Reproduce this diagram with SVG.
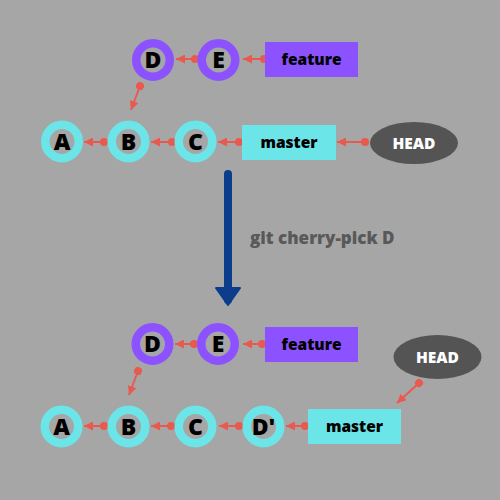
<svg xmlns="http://www.w3.org/2000/svg" width="500" height="500" viewBox="0 0 500 500">
<defs>
<marker id="tip" viewBox="0 0 10 10" refX="10" refY="5" markerWidth="9" markerHeight="9" markerUnits="userSpaceOnUse" orient="auto">
<path d="M0,0 L10,5 L0,10 Z" fill="#e85a4f"/>
</marker>
<marker id="dot" viewBox="0 0 10 10" refX="5" refY="5" markerWidth="8" markerHeight="8" markerUnits="userSpaceOnUse" orient="auto">
<circle cx="5" cy="5" r="5" fill="#e85a4f"/>
</marker>
</defs>
<style>
.bg{fill:#a6a6a6}
.cy{fill:#a6a6a6;stroke:#6ce5e8;stroke-width:8.5}
.pu{fill:#a6a6a6;stroke:#8c52ff;stroke-width:8.5}
.lt{font-family:"Open Sans","DejaVu Sans",sans-serif;font-weight:800;font-size:23px;fill:#000;text-anchor:middle}
.lb{font-family:"Open Sans","DejaVu Sans",sans-serif;font-weight:800;font-size:15.5px;fill:#000;text-anchor:middle}
.hd{font-family:"Open Sans","DejaVu Sans",sans-serif;font-weight:800;font-size:15.5px;fill:#fff;text-anchor:middle}
.ar{stroke:#e85a4f;stroke-width:2;fill:none;marker-start:url(#dot);marker-end:url(#tip)}
</style>
<rect class="bg" x="0" y="0" width="500" height="500"/>

<g id="connectors">
<line class="ar" x1="264" y1="59" x2="243" y2="59"/>
<line class="ar" x1="195" y1="59" x2="176" y2="59"/>
<line class="ar" x1="140" y1="86" x2="131" y2="110"/>
<line class="ar" x1="365" y1="142" x2="337" y2="142"/>
<line class="ar" x1="239" y1="142" x2="218" y2="142"/>
<line class="ar" x1="172" y1="142" x2="151" y2="142"/>
<line class="ar" x1="104" y1="142" x2="84" y2="142"/>

<line class="ar" x1="262" y1="344" x2="243" y2="344"/>
<line class="ar" x1="194" y1="344" x2="175" y2="344"/>
<line class="ar" x1="138" y1="371" x2="129" y2="395"/>
<line class="ar" x1="419" y1="383" x2="397" y2="403"/>
<line class="ar" x1="305" y1="426" x2="286" y2="426"/>
<line class="ar" x1="239" y1="426" x2="219" y2="426"/>
<line class="ar" x1="171" y1="426" x2="151" y2="426"/>
<line class="ar" x1="104" y1="426" x2="84" y2="426"/>

<line x1="228" y1="174" x2="228" y2="300" stroke="#0b3d8c" stroke-width="8" stroke-linecap="round"/>
<path d="M216,288 L240,288 L228,305 Z" fill="#0b3d8c" stroke="#0b3d8c" stroke-width="2" stroke-linejoin="round"/>
</g>

<text x="250" y="244" font-family="'Open Sans','DejaVu Sans',sans-serif" font-weight="800" font-size="17" fill="#595959">git cherry-pick D</text>

<g id="top-D"><circle class="pu" cx="153" cy="60" r="16.75"/><text class="lt" x="153" y="68">D</text></g>
<g id="top-E"><circle class="pu" cx="218.5" cy="60" r="16.75"/><text class="lt" x="218.5" y="68">E</text></g>
<g id="top-feature"><rect x="265" y="42" width="93" height="35" fill="#8c52ff"/><text class="lb" x="311.5" y="65">feature</text></g>
<g id="top-A"><circle class="cy" cx="62" cy="141.5" r="16.75"/><text class="lt" x="62" y="149.5">A</text></g>
<g id="top-B"><circle class="cy" cx="128.5" cy="141.5" r="16.75"/><text class="lt" x="128.5" y="149.5">B</text></g>
<g id="top-C"><circle class="cy" cx="195.5" cy="141.5" r="16.75"/><text class="lt" x="195.5" y="149.5">C</text></g>
<g id="top-master"><rect x="242" y="125" width="94" height="35" fill="#6ce5e8"/><text class="lb" x="289" y="148">master</text></g>
<g id="top-HEAD"><ellipse cx="414" cy="143" rx="44" ry="21" fill="#545454"/><text class="hd" x="414" y="148.5">HEAD</text></g>

<g id="bot-D"><circle class="pu" cx="152.5" cy="344" r="16.75"/><text class="lt" x="152.5" y="352">D</text></g>
<g id="bot-E"><circle class="pu" cx="218" cy="344" r="16.75"/><text class="lt" x="218" y="352">E</text></g>
<g id="bot-feature"><rect x="265" y="327" width="93" height="35" fill="#8c52ff"/><text class="lb" x="311.5" y="350">feature</text></g>
<g id="bot-HEAD"><ellipse cx="437.5" cy="357" rx="44" ry="22" fill="#545454"/><text class="hd" x="437.5" y="362.5">HEAD</text></g>
<g id="bot-A"><circle class="cy" cx="61.5" cy="426.5" r="16.75"/><text class="lt" x="61.5" y="434.5">A</text></g>
<g id="bot-B"><circle class="cy" cx="128.5" cy="426.5" r="16.75"/><text class="lt" x="128.5" y="434.5">B</text></g>
<g id="bot-C"><circle class="cy" cx="195.5" cy="426.5" r="16.75"/><text class="lt" x="195.5" y="434.5">C</text></g>
<g id="bot-Dp"><circle class="cy" cx="263.5" cy="426.5" r="16.75"/><text class="lt" x="263.5" y="434.5">D'</text></g>
<g id="bot-master"><rect x="308" y="409" width="93" height="35" fill="#6ce5e8"/><text class="lb" x="354.5" y="432">master</text></g>
</svg>
